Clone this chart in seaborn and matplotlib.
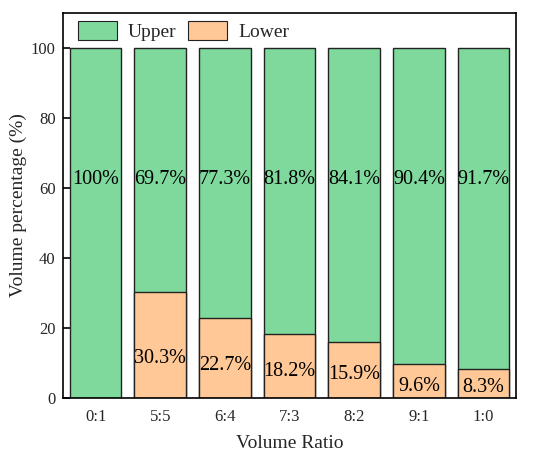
import matplotlib
matplotlib.use("Agg")
import matplotlib.pyplot as plt
import seaborn as sns
import pandas as pd
from matplotlib.patches import Patch

ratios = ["0:1", "5:5", "6:4", "7:3", "8:2", "9:1", "1:0"]
upper = [100.0, 69.7, 77.3, 81.8, 84.1, 90.4, 91.7]
lower = [0.0, 30.3, 22.7, 18.2, 15.9, 9.6, 8.3]
upper_labels = ["100%", "69.7%", "77.3%", "81.8%", "84.1%", "90.4%", "91.7%"]
lower_labels = ["", "30.3%", "22.7%", "18.2%", "15.9%", "9.6%", "8.3%"]

green = "#7FD99D"
orange = "#FFC896"

sns.set_theme(style="white")
plt.rcParams["font.family"] = ["Liberation Serif", "DejaVu Serif"]

df = pd.DataFrame({"ratio": ratios, "upper": upper, "lower": lower})
df["total"] = df["upper"] + df["lower"]

fig = plt.figure(figsize=(5.5, 4.61), dpi=100)
ax = fig.add_axes([0.115, 0.137, 0.823, 0.835])

sns.barplot(data=df, x="ratio", y="total", order=ratios, color=green,
            saturation=1, width=0.8, edgecolor="#222222", linewidth=1.0, ax=ax)
sns.barplot(data=df[df["lower"] > 0], x="ratio", y="lower", order=ratios,
            color=orange, saturation=1, width=0.8, edgecolor="#222222",
            linewidth=1.0, ax=ax)

for i, (u, lo) in enumerate(zip(upper, lower)):
    ax.text(i, 62.5, upper_labels[i], ha="center", va="center", fontsize=14.5, color="black")
    if lo > 0:
        ax.text(i, 0.38 * lo - 0.3 + (1.0 if 15 < lo < 25 else 0), lower_labels[i],
                ha="center", va="center", fontsize=14.5, color="black")

ax.set_xlim(-0.5, 6.5)
ax.set_ylim(0, 110)
ax.set_yticks([0, 20, 40, 60, 80, 100])
ax.set_xlabel("Volume Ratio", fontsize=14, labelpad=7)
ax.set_ylabel("Volume percentage (%)", fontsize=14, labelpad=3)
ax.tick_params(axis="y", which="both", direction="in", length=5, width=1.2,
               labelsize=12, left=True, color="black", pad=5.5)
ax.tick_params(axis="x", length=0, labelsize=12, pad=8)
for s in ax.spines.values():
    s.set_visible(True)
    s.set_color("black")
    s.set_linewidth(1.2)

handles = [Patch(facecolor=green, edgecolor="#222222", linewidth=0.8, label="Upper"),
           Patch(facecolor=orange, edgecolor="#222222", linewidth=0.8, label="Lower")]
ax.legend(handles=handles, loc="upper left", bbox_to_anchor=(0.01, 1.008), ncol=2,
          frameon=False, fontsize=14, handlelength=2.0, handleheight=1.15,
          handletextpad=0.55, columnspacing=0.6, borderaxespad=0.25,
          borderpad=0.3)

fig.savefig("out.png", dpi=100)
